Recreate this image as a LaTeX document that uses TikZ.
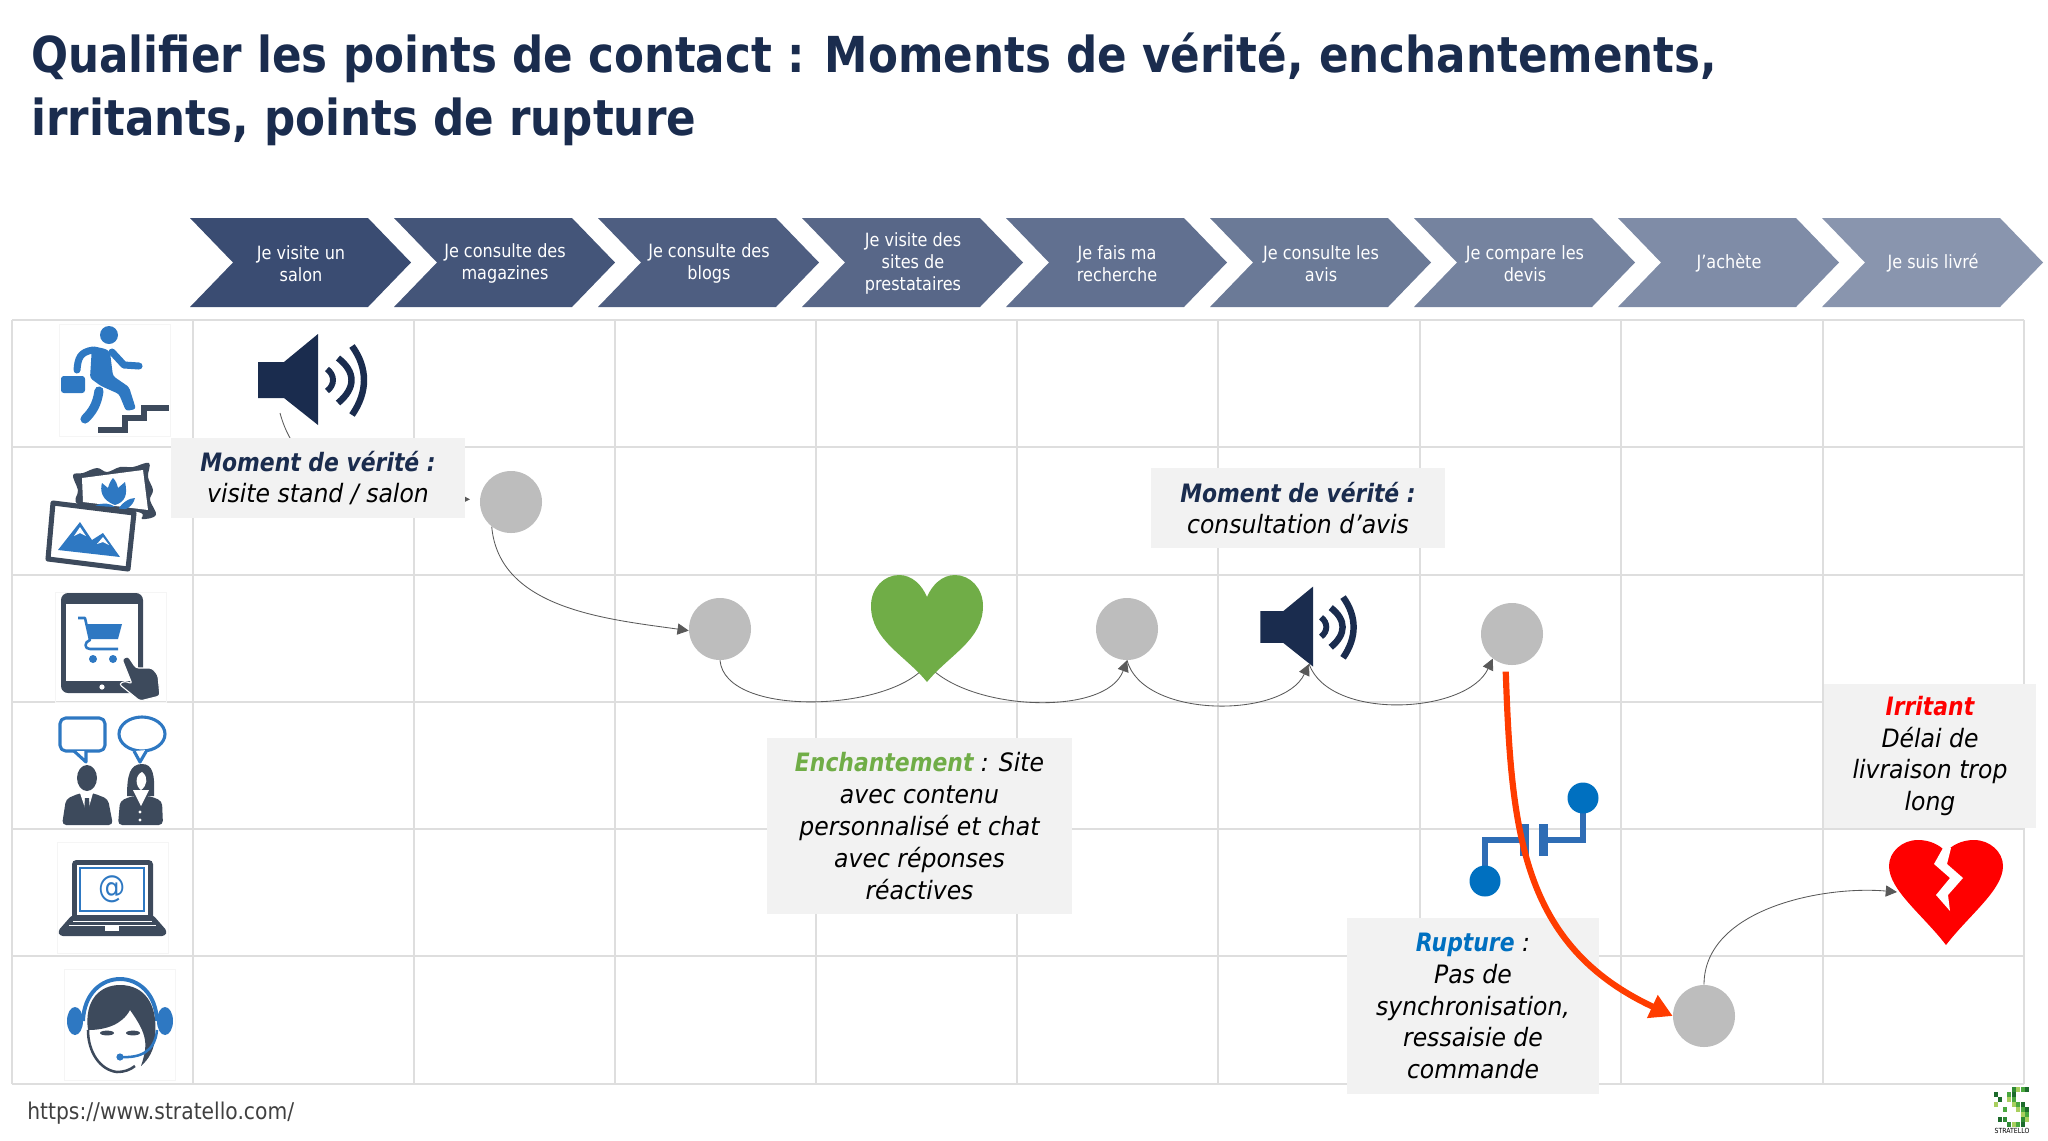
\documentclass[tikz,border=0pt]{standalone}
\usepackage{fontspec}
\setmainfont{DejaVu Sans}[FakeStretch=0.88,ItalicFeatures={FakeStretch=0.93},BoldItalicFeatures={FakeStretch=0.865}]
\usetikzlibrary{arrows.meta}
\definecolor{navy}{HTML}{1A2C4E}
\definecolor{chevfirst}{HTML}{3A4C72}
\definecolor{chevlast}{HTML}{8995AE}
\definecolor{gridline}{HTML}{DEDEDE}
\definecolor{notegrey}{HTML}{F2F2F2}
\definecolor{stopgrey}{HTML}{BDBDBD}
\definecolor{flowgrey}{HTML}{595959}
\definecolor{icondark}{HTML}{3D4A5C}
\definecolor{iconblue}{HTML}{2E78C2}
\definecolor{framegrey}{HTML}{F5F5F5}
\definecolor{leafgreen}{HTML}{70AD47}
\definecolor{breakblue}{HTML}{0070C0}
\definecolor{breakwire}{HTML}{2F6DB5}
\definecolor{redline}{HTML}{FF3C00}
\definecolor{logo0}{HTML}{1D6B2C}
\definecolor{logo1}{HTML}{4AA83F}
\definecolor{logo2}{HTML}{A9CF5F}
\definecolor{logo3}{HTML}{2F8A35}
\tikzset{
  chevtext/.style={align=center,text=white,inner sep=0pt,font=\fontsize{13}{15.6}\selectfont},
  note/.style={fill=notegrey,align=center,inner sep=0pt,font=\fontsize{18}{22.6}\selectfont\itshape},
  stop/.style={circle,fill=stopgrey,inner sep=0pt,minimum size=1.55cm},
  flow/.style={draw=flowgrey,line width=0.6pt,-{Triangle[length=8pt,width=8pt]}},
  plainflow/.style={draw=flowgrey,line width=0.6pt},
  speaker/.pic={
    \fill[navy] (-61,-18) -- (-35,-18) -- (-1,-46) -- (-1,45) -- (-35,18) -- (-61,18) -- cycle;
    \draw[navy,line width=4.2pt] (8,-11) .. controls (16,-5) and (16,5) .. (8,11);
    \draw[navy,line width=4.6pt] (19,-22) .. controls (37,-8) and (37,8) .. (19,23);
    \draw[navy,line width=4.6pt] (33,-34) .. controls (49,-12) and (49,12) .. (33,35);
  }
}
\begin{document}
\begin{tikzpicture}[x=0.025cm,y=-0.025cm]
  \useasboundingbox (0,0) rectangle (2048,1140);

  % Title
  \node (title) [anchor=north west,inner sep=0pt,align=left,text=navy,font=\fontsize{35.25}{44.8}\selectfont\bfseries] at (31,33)
    {Qualifier les points de contact : Moments de vérité, enchantements,\\irritants, points de rupture};

  % Chevrons of the journey
  \foreach \i/\lab in {0/{Je visite un\\salon},1/{Je consulte des\\magazines},2/{Je consulte des\\blogs},3/{Je visite des\\sites de\\prestataires},4/{Je fais ma\\recherche},5/{Je consulte les\\avis},6/{Je compare les\\devis},7/{J’achète},8/{Je suis livré}} {
    \pgfmathsetmacro{\pct}{12.5*\i}
    \fill[chevlast!\pct!chevfirst] ({190+204*\i},218) -- ++(178,0) -- ++(43,44.5) -- ++(-43,44.5) -- ++(-178,0) -- ++(43,-44.5) -- cycle;
    \node (chev\i) [chevtext] at ({301+204*\i},263.5) {\lab};
  }

  % Grid of the channels
  \foreach \gx in {12,193,414,615,816,1017,1218,1420,1621,1823,2024}
    \draw[gridline,line width=1.9pt] (\gx,320) -- (\gx,1084);
  \foreach \gy in {320,447,575,702,829,956,1084}
    \draw[gridline,line width=1.9pt] (12,\gy) -- (2024,\gy);

  % Runner on stairs
  \draw[framegrey,line width=0.6pt] (59,324) rectangle (170,436);
  \fill[iconblue] (109,335) circle (9);
  \fill[iconblue,rounded corners=2pt] (92,346) -- (106,349) -- (110,352) -- (113,376) -- (129,387) -- (136,409) -- (126,411) -- (119,394) -- (101,386) -- (90,378) -- cycle;
  \draw[iconblue,line width=5pt,line cap=round,line join=round] (93,350) .. controls (80,352) and (78,358) .. (77,370);
  \draw[iconblue,line width=5pt,line cap=round,line join=round] (112,352) -- (124,365) -- (139,366);
  \draw[iconblue,line width=6.5pt,line cap=round,line join=round] (99,391) .. controls (97,405) and (92,412) .. (85,419);
  \fill[iconblue,rounded corners=2pt] (61,376) rectangle (85,393);
  \draw[icondark,line width=4.6pt] (98,430) -- (125,430) -- (125,418) -- (144,418) -- (144,408) -- (169,408);

  % Photos
  \fill[icondark] plot[smooth cycle,tension=0.6] coordinates {(73,475) (83,473) (97,468) (107,472) (120,467) (133,467) (149,463) (148,477) (153,490) (150,500) (156,515) (142,519) (138,512) (80,505) (78,490)};
  \fill[white] (82,478) -- (143,470) -- (148,510) -- (83,502) -- cycle;
  \fill[iconblue] (115,505) .. controls (101,500) and (100,490) .. (102,483) -- (108,488) .. controls (109,484) and (111,480) .. (113,478) .. controls (116,481) and (117,484) .. (118,488) -- (125,482) .. controls (128,495) and (125,502) .. (115,505) -- cycle;
  \fill[iconblue] (95,506) .. controls (102,502) and (110,503) .. (115,507) -- cycle;
  \fill[iconblue] (118,510) .. controls (122,502) and (130,498) .. (135,498) .. controls (133,506) and (126,511) .. (118,510) -- cycle;
  \draw[icondark,fill=white,line width=3.6pt,line join=round] (53,503) -- (134,513) -- (128,569) -- (48,559) -- cycle;
  \fill[iconblue] (58,550) -- (80,522) -- (92,540) -- (103,533) -- (120,557) -- cycle;
  \fill[white] (74,536) -- (80,527) -- (86,536) -- (80,533) -- cycle;
  \fill[white] (97,544) -- (103,537) -- (109,545) -- (103,542) -- cycle;

  % Tablet with cart
  \draw[framegrey,line width=0.6pt] (55,592) rectangle (166,702);
  \fill[icondark,rounded corners=5pt] (61,593) rectangle (143,693);
  \fill[white] (66,604) rectangle (138,681);
  \fill[white] (102,687) circle (2.6);
  \fill[iconblue] (87,624) -- (122,624) -- (118,639) -- (90,639) -- cycle;
  \draw[iconblue,line width=1.8pt,line join=round] (78,618) -- (85,618) -- (90,640) .. controls (84,642) and (84,649) .. (90,649) -- (118,649);
  \fill[iconblue] (93,659) circle (4);
  \fill[iconblue] (113,659) circle (4);
  \fill[icondark,draw=white,line width=0.8pt,rounded corners=2pt] (122,659) -- (128,656) -- (136,668) -- (152,668) -- (158,675) -- (160,696) -- (140,701) -- (119,684) -- (125,681) -- (132,684) -- cycle;

  % Two speaking persons
  \draw[iconblue,line width=2.2pt,line join=round,rounded corners=4pt] (60,718) rectangle (105,751);
  \draw[iconblue,line width=2.2pt,line join=round,fill=white] (74,751) -- (86,762) -- (86,751);
  \draw[iconblue,line width=2.2pt] (142,734) ellipse (23 and 17);
  \draw[iconblue,line width=2.2pt,line join=round,fill=white] (134,751) -- (140,762) -- (147,750);
  \fill[icondark] (87,778) ellipse (10 and 13);
  \fill[icondark,rounded corners=3pt] (62,825) -- (66,799) -- (80,793) -- (93,793) -- (108,799) -- (113,825) -- cycle;
  \fill[white] (80,793) -- (87,814) -- (93,793) -- cycle;
  \fill[icondark] (85,798) -- (89,798) -- (90,812) -- (87,816) -- (84,812) -- cycle;
  \fill[icondark] (127,796) .. controls (127,775) and (130,764) .. (142,764) .. controls (153,764) and (155,775) .. (154,796) -- cycle;
  \fill[white] (142,772) .. controls (135,775) and (135,786) .. (141,790) .. controls (147,786) and (149,777) .. (142,772) -- cycle;
  \fill[icondark,rounded corners=3pt] (118,825) -- (120,801) -- (132,796) -- (150,796) -- (162,801) -- (163,825) -- cycle;
  \fill[white] (133,790) -- (141,806) -- (149,790) -- cycle;
  \fill[white] (140,812) circle (1.6);
  \fill[white] (140,820) circle (1.6);

  % Laptop with mail
  \draw[framegrey,line width=0.6pt] (57,842) rectangle (168,953);
  \fill[icondark,rounded corners=3pt] (72,860) rectangle (153,920);
  \fill[white] (77,865) rectangle (148,915);
  \draw[iconblue,line width=1.8pt] (80,868) rectangle (144,911);
  \node (mailsign) [text=iconblue,inner sep=0pt,font=\fontsize{22}{22}\selectfont] at (112,889) {@};
  \fill[icondark,rounded corners=2pt] (72,915) -- (153,915) -- (167,931) -- (165,936) -- (60,936) -- (58,931) -- cycle;
  \draw[white,line width=0.5pt] (73,921) -- (152,921);
  \draw[white,line width=0.5pt] (69,925) -- (156,925);
  \fill[white] (105,926) rectangle (119,931);

  % Head with headset
  \draw[framegrey,line width=0.6pt] (64,969) rectangle (175,1080);
  \fill[iconblue] (75,1021) ellipse (8 and 14);
  \fill[iconblue] (165,1021) ellipse (8 and 14);
  \draw[iconblue,line width=2.8pt] (83,1021) .. controls (85,965) and (155,965) .. (157,1021);
  \fill[icondark] (88,1030) .. controls (84,1000) and (100,985) .. (120,985) .. controls (145,985) and (158,1005) .. (155,1035) .. controls (155,1050) and (148,1060) .. (141,1066) .. controls (148,1045) and (148,1035) .. (130,1010) .. controls (122,1025) and (105,1030) .. cycle;
  \draw[icondark,line width=1.8pt] (88,1030) .. controls (88,1052) and (100,1070) .. (117,1072) .. controls (124,1072) and (130,1070) .. (135,1066);
  \fill[icondark] (107,1033) ellipse (7 and 2.4);
  \fill[icondark] (133,1033) ellipse (7 and 2.4);
  \draw[iconblue,line width=1.8pt] (157,1030) .. controls (155,1052) and (140,1058) .. (121,1057);
  \fill[iconblue] (120,1057) circle (3.6);

  % Marking stops of the customer path
  \node (stopa) [stop] at (511,502) {};
  \node (stopb) [stop] at (720,629) {};
  \node (stopc) [stop] at (1127,629) {};
  \node (stopd) [stop] at (1512,634) {};
  \node (stope) [stop] at (1704,1016) {};
  \coordinate (spkafoot) at (280,413);
  \coordinate (spkbfoot) at (1309,664);
  \coordinate (hgreenfoot) at (927,664);
  \coordinate (hredleft) at (1897,892);

  % Drawing grey flows
  \draw[flow,shorten >=7pt] (spkafoot) to[out=-75,in=180] (stopa.175);
  \draw[flow] (stopa.232) to[out=-85,in=172,looseness=0.95] (stopb.183);
  \draw[plainflow] (stopb.south) to[out=-85,in=-125,looseness=0.72] (hgreenfoot);
  \draw[flow] (hgreenfoot) to[out=-50,in=-110,looseness=0.78] (stopc.south);
  \draw[flow] (stopc.south) to[out=-75,in=-115,looseness=0.85] (spkbfoot);
  \draw[flow] (spkbfoot) to[out=-70,in=-115,looseness=0.85] (stopd.232);
  \draw[flow] (stope.north) to[out=90,in=175,looseness=0.9] (hredleft);

  % Speakers and hearts
  \pic at (319,380) {speaker};
  \pic[scale=0.88] at (1314,627) {speaker};
  \fill[leafgreen] (927,682) .. controls (905,655) and (871,640) .. (871,606) .. controls (871,588) and (884,575) .. (899,575) .. controls (912,575) and (922,585) .. (927,597) .. controls (932,585) and (942,575) .. (955,575) .. controls (970,575) and (983,588) .. (983,606) .. controls (983,640) and (949,655) .. (927,682) -- cycle;
  \fill[red,shift={(-2,0)}] (1948,945) .. controls (1925,915) and (1891,890) .. (1891,866) .. controls (1891,852) and (1904,840) .. (1920,840) .. controls (1932,840) and (1942,845) .. (1948,852) .. controls (1954,845) and (1964,840) .. (1976,840) .. controls (1992,840) and (2005,852) .. (2005,866) .. controls (2005,890) and (1971,915) .. (1948,945) -- cycle;
  \fill[white,shift={(-2,0)}] (1945,848) -- (1936,864) -- (1952,878) -- (1938,895) -- (1952,911) -- (1950,895) -- (1965,878) -- (1949,864) -- (1953,848) -- cycle;

  % Marking break between channels
  \draw[breakwire,line width=3.6pt] (1583,798) -- (1583,840) -- (1545,840);
  \draw[breakwire,line width=3.6pt] (1485,881) -- (1485,840) -- (1524,840);
  \fill[breakwire] (1520,824) rectangle (1529,856);
  \fill[breakwire] (1539,824) rectangle (1548,856);
  \fill[breakblue] (1583,798) circle (15.5);
  \fill[breakblue] (1485,881) circle (15.5);

  % Notes
  \node (notea) [note,minimum width=7.35cm,minimum height=2cm] at (318,478)
    {\textcolor{navy}{\textbf{Moment de vérité :}}\\visite stand / salon};
  \node (noteb) [note,minimum width=7.35cm,minimum height=2cm] at (1298,508)
    {\textcolor{navy}{\textbf{Moment de vérité :}}\\consultation d’avis};
  \node (notec) [note,minimum width=7.62cm,minimum height=4.4cm] at (919.5,826)
    {\textcolor{leafgreen}{\textbf{Enchantement}} : Site\\avec contenu\\personnalisé et chat\\avec réponses\\réactives};
  \node (noted) [note,minimum width=6.3cm,minimum height=4.4cm] at (1473,1006)
    {\textcolor{breakblue}{\textbf{Rupture}} :\\Pas de\\synchronisation,\\ressaisie de\\commande};
  \node (notee) [note,minimum width=5.3cm,minimum height=3.58cm] at (1930,756)
    {\textcolor{red}{\textbf{Irritant}}\\Délai de\\livraison trop\\long};

  % Drawing red flow
  \draw[redline,line width=4.4pt,-{Triangle[length=16pt,width=17pt]},shorten <=5pt] (stopd.258) to[out=-88,in=155,looseness=1.1] (stope.west);

  % Address and logo
  \node (url) [anchor=west,inner sep=0pt,text=black!75,font=\fontsize{16.4}{16.4}\selectfont] at (27,1113) {https://www.stratello.com/};
  \foreach \lx/\ly in {1/0,2/0,3/0,4/0,0/1,1/1,0/2,1/2,1/3,2/3,3/3,2/4,3/4,4/4,3/5,4/5,3/6,4/6,0/7,1/7,2/7,3/7,-3/1,-2/2,-3/3,-1/4,-2/6,-1/6} {
    \pgfmathtruncatemacro{\logoshade}{mod(3*\lx+5*\ly+20,4)}
    \fill[logo\logoshade] ({2007+4.5*\lx},{1087+5*\ly}) rectangle ++(4.3,4.8);
  }
  \node (logotext) [inner sep=0pt,font=\fontsize{5}{5}\selectfont] at (2012,1131) {STRATELLO};
\end{tikzpicture}
\end{document}
